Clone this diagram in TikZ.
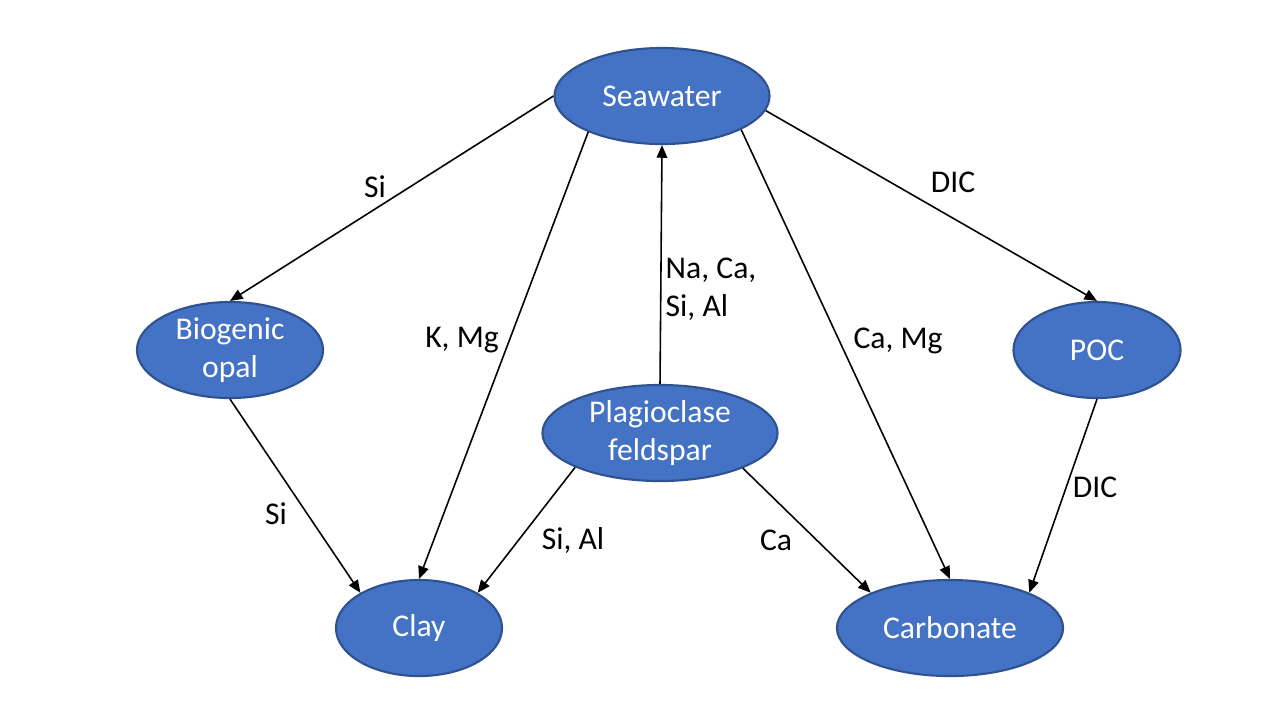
\documentclass[tikz,border=0pt]{standalone}
\usepackage{fontspec}
\setmainfont{Carlito}
\usetikzlibrary{arrows.meta,shapes.geometric}
\definecolor{nodeblue}{HTML}{4472C4}
\definecolor{nodeedge}{HTML}{2F528F}
\tikzset{
  blob/.style={ellipse, fill=nodeblue, draw=nodeedge, line width=0.6pt, text=white,
    font=\fontsize{9}{10.8}\selectfont, align=center, inner sep=0pt, minimum height=0.96cm},
  flow/.style={-{Triangle[length=3.6pt,width=3pt]}, line width=0.45pt, black},
  lab/.style={font=\fontsize{9}{10.8}\selectfont, text=black, inner sep=0pt}
}
\begin{document}
\begin{tikzpicture}[x=0.01cm,y=-0.01cm]
\useasboundingbox[fill=white] (0,0) rectangle (1280,720);
\node[blob, minimum width=2.15cm] (sw) at (662,96) {Seawater};
\node[blob, minimum width=1.86cm] (bo) at (230,350) {Biogenic\\opal};
\node[blob, minimum width=1.67cm] (poc) at (1097,350) {POC};
\node[blob, minimum width=2.35cm] (pf) at (660,433) {Plagioclase\\feldspar};
\node[blob, minimum width=1.66cm] (cl) at (419,628) {Clay};
\node[blob, minimum width=2.26cm] (ca) at (950,628) {Carbonate};

\draw[flow] (sw.west) -- (bo.north);
\draw[flow] (sw.206) -- (cl.north);
\draw[flow] (pf.north) -- (sw.south);
\draw[flow] (sw.-23) -- (ca.north);
\draw[flow] (sw.-8) -- (poc.north);
\draw[flow] (bo.south) -- (cl.149);
\draw[flow] (pf.202) -- (cl.31);
\draw[flow] (pf.-23) -- (ca.156);
\draw[flow] (poc.south) -- (ca.24);

\node[lab] (l1) at (375,187) {Si};
\node[lab] (l2) at (462,340) {K, Mg};
\node[lab, align=left, anchor=west] (l3) at (665,289) {Na, Ca,\\Si, Al};
\node[lab] (l4) at (898,341) {Ca, Mg};
\node[lab] (l5) at (953,182) {DIC};
\node[lab] (l6) at (276,514) {Si};
\node[lab] (l7) at (573,541) {Si, Al};
\node[lab] (l8) at (776,540) {Ca};
\node[lab] (l9) at (1095,487) {DIC};
\end{tikzpicture}
\end{document}
